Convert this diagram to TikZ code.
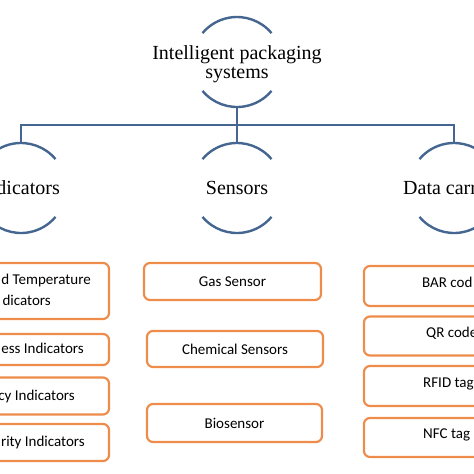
\documentclass[tikz,border=0pt]{standalone}
\usepackage{fontspec}
\setmainfont{Liberation Serif}
\newfontfamily\boxfont{Carlito}
\usetikzlibrary{positioning}
\definecolor{linkblue}{RGB}{68,102,145}
\definecolor{boxorange}{RGB}{237,140,75}

\begin{document}
\begin{tikzpicture}[x=1pt,y=1pt]
 \tikzstyle{link}=[draw=linkblue,line width=2.4pt]
 \tikzstyle{ring}=[circle,minimum size=90pt,inner sep=0pt,outer sep=0pt]
 \tikzstyle{head}=[font=\fontsize{20}{19}\selectfont,align=center,inner sep=0pt]
 \tikzstyle{leaf}=[draw=boxorange,line width=2.2pt,rounded corners=6pt,outer sep=0pt,font=\boxfont\fontsize{15}{18}\selectfont]
 \tikzstyle{cut}=[font=\boxfont\fontsize{15}{18}\selectfont,inner sep=0pt]

 \useasboundingbox (0,0) rectangle (474,-474);
 \clip (0,0) rectangle (474,-474);

   % rings
   \node[ring] (ips) at (237,-62) {};
   \node[ring] (ind) at (21,-188) {};
   \node[ring] (sen) at (237,-188) {};
   \node[ring] (dat) at (454,-188) {};
   \foreach \r in {ips,ind,sen,dat}
     \draw[link] (\r.40) arc (40:140:45pt) (\r.220) arc (220:320:45pt);

   \node[head] (ips-t) at ([yshift=-2pt]ips.center) {Intelligent packaging\\systems};
   \node[head,anchor=base east] (ind-t) at ([xshift=39pt,yshift=-6pt]ind.center) {dicators};
   \node[head] (sen-t) at (sen.center) {Sensors};
   \node[head,anchor=base west] (dat-t) at ([xshift=-51pt,yshift=-6pt]dat.center) {Data carr};

   \coordinate (bus) at (237,-125);
   \draw[link] (ips.south) -- (sen.north);
   \draw[link] (ind.north) |- (bus) -| (dat.north);

   % indicators
   \node[leaf,minimum width=174pt,minimum height=56pt] (i1) at (22,-291) {};
   \node[leaf,minimum width=174pt,minimum height=31pt] (i2) at (22,-349.5) {};
   \node[leaf,minimum width=174pt,minimum height=37pt] (i3) at (22,-396) {};
   \node[leaf,minimum width=174pt,minimum height=37pt] (i4) at (22,-442.5) {};
   \node[cut,anchor=base east] (i1a) at ([xshift=-18pt,yshift=7pt]i1.east) {d Temperature};
   \node[cut,anchor=base east] (i1b) at ([xshift=-58pt,yshift=-14pt]i1.east) {dicators};
   \node[cut,anchor=base east] (i2t) at ([xshift=-25pt,yshift=-4pt]i2.east) {ess Indicators};
   \node[cut,anchor=base east] (i3t) at ([xshift=-34pt,yshift=-4pt]i3.east) {cy Indicators};
   \node[cut,anchor=base east] (i4t) at ([xshift=-24pt,yshift=-4pt]i4.east) {rity Indicators};

   % sensors
   \node[leaf,minimum width=177pt,minimum height=37pt] (s1) at (232.5,-281.5) {Gas Sensor};
   \node[leaf,minimum width=176pt,minimum height=36pt] (s2) at (235,-349) {Chemical Sensors};
   \node[leaf,minimum width=175pt,minimum height=38pt] (s3) at (234.5,-423) {Biosensor};

   % data carriers
   \node[leaf,minimum width=176pt,minimum height=40pt,anchor=west] (d1) at (364,-286) {};
   \node[leaf,minimum width=176pt,minimum height=39pt,anchor=west] (d2) at (364,-336) {};
   \node[leaf,minimum width=176pt,minimum height=40pt,anchor=west] (d3) at (364,-386) {};
   \node[leaf,minimum width=176pt,minimum height=39pt,anchor=west] (d4) at (364,-437.5) {};
   \node[cut,anchor=base west] (d1t) at ([xshift=58pt,yshift=-1pt]d1.west) {BAR cod};
   \node[cut,anchor=base west] (d2t) at ([xshift=62pt,yshift=-1pt]d2.west) {QR code};
   \node[cut,anchor=base west] (d3t) at ([xshift=59pt,yshift=-1pt]d3.west) {RFID tag};
   \node[cut,anchor=base west] (d4t) at ([xshift=59pt,yshift=-1pt]d4.west) {NFC tag};

\end{tikzpicture}
\end{document}
